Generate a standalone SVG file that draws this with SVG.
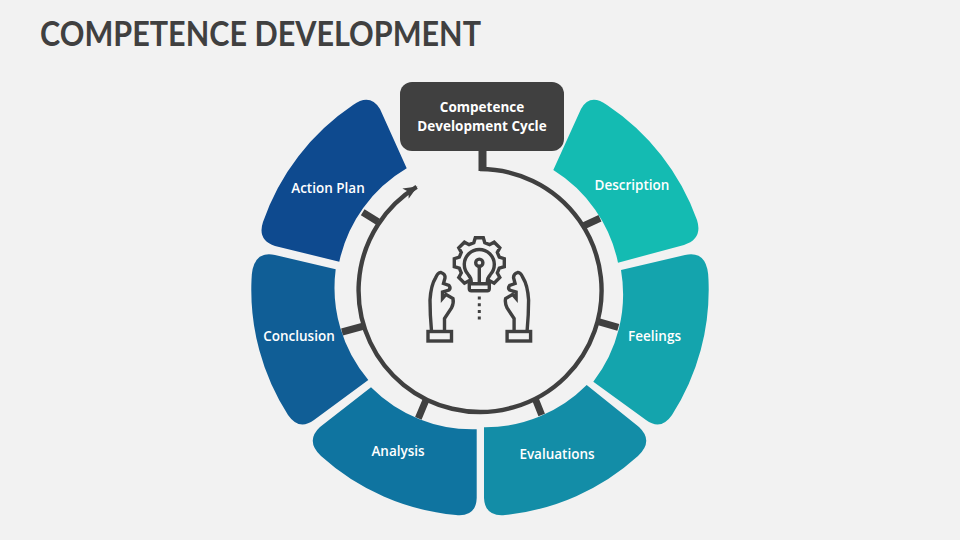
<svg xmlns="http://www.w3.org/2000/svg" width="960" height="540" viewBox="0 0 960 540">
<style>
.t{font-family:"Open Sans","Liberation Sans",sans-serif;font-size:13.5px;font-weight:600;fill:#fff;text-anchor:middle;dominant-baseline:central}
.b{font-weight:700}
.l{fill:none;stroke:#404040;stroke-width:3.4;stroke-linejoin:miter}
.k{stroke:#404040;stroke-width:7;fill:none}
</style>
<defs>
<marker id="ah" viewBox="0 0 14 12" refX="13" refY="6" markerWidth="14" markerHeight="12" markerUnits="userSpaceOnUse" orient="auto"><path d="M0 0L14 6L0 12L3.5 6Z" fill="#404040"/></marker>
</defs>
<rect width="960" height="540" fill="#f2f2f2"/>
<text x="40" y="46" font-family="Lato,'Open Sans',sans-serif" font-size="34" font-weight="700" fill="#404040" textLength="441" lengthAdjust="spacingAndGlyphs">COMPETENCE DEVELOPMENT</text>
<g id="connectors">
<path d="M482.5 151V171" stroke="#404040" stroke-width="8" fill="none"/>
<path d="M480 169A121.5 121.5 0 1 1 416.6 186.9" fill="none" stroke="#404040" stroke-width="4.4" marker-end="url(#ah)"/>
<path class="k" d="M600 218.3L581.7 226.7M618.3 327.3L598.3 321.7M541.7 415L535 398.3M418.3 418.3L426 400M342 332L364 326M362.7 212.3L378 221.7"/>
</g>
<g id="description"><path fill="#14bbb2" d="M553.3 170A143 143 0 0 1 618 262.7L684 245Q703 239 697 220A232 232 0 0 0 607 105Q590 93 581 109Z"/><text class="t" x="632" y="185">Description</text></g>
<g id="feelings"><path fill="#14a4ad" d="M621 270A143 143 0 0 1 593.3 381.7L646 420Q661 431 672 415A232 232 0 0 0 708.5 280Q708 250 685 255Z"/><text class="t" x="654.5" y="336">Feelings</text></g>
<g id="evaluations"><path fill="#138da7" d="M586.7 385A143 143 0 0 1 484 427.3V498Q485 517 505 515A232 232 0 0 0 638 456Q654 441 639 427Z"/><text class="t" x="557" y="454">Evaluations</text></g>
<g id="analysis"><path fill="#0f74a0" d="M371 387.3A143 143 0 0 0 476.7 429.3V498Q476 517 456 515A232 232 0 0 1 321 456Q305 441 320 427Z"/><text class="t" x="398" y="451">Analysis</text></g>
<g id="conclusion"><path fill="#105e96" d="M335.7 269.3A143 143 0 0 0 368.3 380L314 420Q299 431 288 415A232 232 0 0 1 251.5 280Q252 250 275 255Z"/><text class="t" x="299" y="336">Conclusion</text></g>
<g id="action-plan"><path fill="#0e4a8f" d="M406.7 168.3A143 143 0 0 0 339.3 261.7L275 246Q257 240 263 222A232 232 0 0 1 353 105Q370 93 380 109Z"/><text class="t" x="328" y="188">Action Plan</text></g>
<g id="title-box"><rect x="400" y="82" width="164" height="69" rx="12" fill="#404040"/><text class="t b" x="482" y="107">Competence</text><text class="t b" x="482" y="126">Development Cycle</text></g>
<g id="icon">
<g transform="translate(479.3 262.7)" class="l">
<path d="M-11 20.5L-10.25 18.03L-14.85 20.51L-20.51 14.85L-18.03 10.25L-20 5.5L-25 4L-25 -4L-20 -5.5L-18.03 -10.25L-20.51 -14.85L-14.85 -20.51L-10.25 -18.03L-5.5 -20L-4 -25L4 -25L5.5 -20L10.25 -18.03L14.85 -20.51L20.51 -14.85L18.03 -10.25L20 -5.5L25 -4L25 4L20 5.5L18.03 10.25L20.51 14.85L14.85 20.51L10.25 18.03L11 20.5"/>
<path d="M-8 20Q-8 15 -11 12A15 15 0 1 1 11 12Q8 15 8 20"/>
<circle cy="0" r="3.6"/>
<path d="M0 3.6V20"/>
<path d="M-10 21H10V26Q10 28 8 28H-8Q-10 28 -10 26Z"/>
</g>
<path stroke="#404040" stroke-width="3" fill="none" stroke-dasharray="3 3.7" d="M479.3 296.5V320"/>
<g id="hand-left" class="l">
<path d="M431.5 331Q430 315 430 300Q431 285 435.500 278Q438 272 441 272.500Q445.500 274 445 278L443.500 283.500L449 285.500Q451 288 449 290L442.500 292V298.500L446 294.500L453 298.500Q454 303 451.500 308L444.500 318.500V331"/>
<rect x="428" y="331.500" width="23.500" height="9.500"/>
</g>
<g class="l" transform="translate(958.6 0) scale(-1 1)">
<path d="M431.5 331Q430 315 430 300Q431 285 435.500 278Q438 272 441 272.500Q445.500 274 445 278L443.500 283.500L449 285.500Q451 288 449 290L442.500 292V298.500L446 294.500L453 298.500Q454 303 451.500 308L444.500 318.500V331"/>
<rect x="428" y="331.500" width="23.500" height="9.500"/>
</g>
</g>
</svg>
